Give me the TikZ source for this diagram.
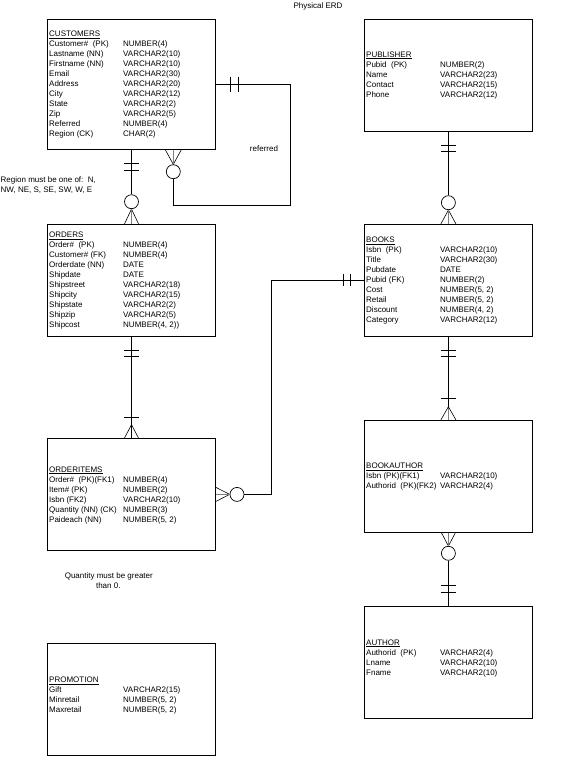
\documentclass[tikz,border=0pt]{standalone}
\usepackage{fontspec}
\setmainfont{Liberation Sans}
\newcommand\rw[2]{\makebox[74pt][l]{#1}#2}
\tikzset{
  x=1pt,y=-1pt,
  entity/.style={draw,line width=0.9pt,inner sep=0pt,minimum width=168pt,minimum height=112pt},
  tbl/.style={anchor=base west,inner sep=0pt,font=\fontsize{8}{10}\selectfont},
  lbl/.style={inner sep=0pt,font=\fontsize{8}{10}\selectfont},
  rel/.style={line width=0.8pt},
  tick/.style={line width=0.8pt},
  optc/.style={circle,draw,line width=0.7pt,minimum size=14pt,inner sep=0pt},
  crow/.style={line width=0.6pt},
  crowmid/.style={line width=0.5pt,gray},
}
\begin{document}
\begin{tikzpicture}
\useasboundingbox (0,0) rectangle (561,766);
\fill[white] (0,0) rectangle (561,766);

\node[lbl,anchor=base] (title) at (318,8.9) {Physical ERD};

% entities
\node[entity,minimum height=130pt] (cust) at (131.5,84.3) {};
\node[entity] (pub) at (448.4,75.2) {};
\node[entity] (ord) at (131.5,280.3) {};
\node[entity] (book) at (448.4,280.3) {};
\node[entity] (oi) at (131.5,494.4) {};
\node[entity] (ba) at (448.4,476.3) {};
\node[entity] (au) at (448.4,662.3) {};
\node[entity] (promo) at (131.3,699.3) {};

% tables
\node[tbl] (custt) at (49,36.7) {\begin{tabular}[t]{@{}l@{}}
\underline{CUSTOMERS}\\
\rw{Customer\#\ \ (PK)}{NUMBER(4)}\\
\rw{Lastname (NN)}{VARCHAR2(10)}\\
\rw{Firstname (NN)}{VARCHAR2(10)}\\
\rw{Email}{VARCHAR2(30)}\\
\rw{Address}{VARCHAR2(20)}\\
\rw{City}{VARCHAR2(12)}\\
\rw{State}{VARCHAR2(2)}\\
\rw{Zip}{VARCHAR2(5)}\\
\rw{Referred}{NUMBER(4)}\\
\rw{Region (CK)}{CHAR(2)}
\end{tabular}};

\node[tbl] (pubt) at (366,57.2) {\begin{tabular}[t]{@{}l@{}}
\underline{PUBLISHER}\\
\rw{Pubid\ \ (PK)}{NUMBER(2)}\\
\rw{Name}{VARCHAR2(23)}\\
\rw{Contact}{VARCHAR2(15)}\\
\rw{Phone}{VARCHAR2(12)}
\end{tabular}};

\node[tbl] (ordt) at (49,237.9) {\begin{tabular}[t]{@{}l@{}}
\underline{ORDERS}\\
\rw{Order\#\ \ (PK)}{NUMBER(4)}\\
\rw{Customer\# (FK)}{NUMBER(4)}\\
\rw{Orderdate (NN)}{DATE}\\
\rw{Shipdate}{DATE}\\
\rw{Shipstreet}{VARCHAR2(18)}\\
\rw{Shipcity}{VARCHAR2(15)}\\
\rw{Shipstate}{VARCHAR2(2)}\\
\rw{Shipzip}{VARCHAR2(5)}\\
\rw{Shipcost}{NUMBER(4, 2))}
\end{tabular}};

\node[tbl] (bookt) at (366,242.9) {\begin{tabular}[t]{@{}l@{}}
\underline{BOOKS}\\
\rw{Isbn\ \ (PK)}{VARCHAR2(10)}\\
\rw{Title}{VARCHAR2(30)}\\
\rw{Pubdate}{DATE}\\
\rw{Pubid (FK)}{NUMBER(2)}\\
\rw{Cost}{NUMBER(5, 2)}\\
\rw{Retail}{NUMBER(5, 2)}\\
\rw{Discount}{NUMBER(4, 2)}\\
\rw{Category}{VARCHAR2(12)}
\end{tabular}};

\node[tbl] (oit) at (49,472.2) {\begin{tabular}[t]{@{}l@{}}
\underline{ORDERITEMS}\\
\rw{Order\#\ \ (PK)(FK1)}{NUMBER(4)}\\
\rw{Item\# (PK)}{NUMBER(2)}\\
\rw{Isbn (FK2)}{VARCHAR2(10)}\\
\rw{Quantity (NN) (CK)}{NUMBER(3)}\\
\rw{Paideach (NN)}{NUMBER(5, 2)}
\end{tabular}};

\node[tbl] (bat) at (366,468.9) {\begin{tabular}[t]{@{}l@{}}
\underline{BOOKAUTHOR}\\
\rw{Isbn (PK)(FK1)}{VARCHAR2(10)}\\
\rw{Authorid\ \ (PK)(FK2)}{VARCHAR2(4)}
\end{tabular}};

\node[tbl] (aut) at (366,645.2) {\begin{tabular}[t]{@{}l@{}}
\underline{AUTHOR}\\
\rw{Authorid\ \ (PK)}{VARCHAR2(4)}\\
\rw{Lname}{VARCHAR2(10)}\\
\rw{Fname}{VARCHAR2(10)}
\end{tabular}};

\node[tbl] (promot) at (49,682.9) {\begin{tabular}[t]{@{}l@{}}
\underline{PROMOTION}\\
\rw{Gift}{VARCHAR2(15)}\\
\rw{Minretail}{NUMBER(5, 2)}\\
\rw{Maxretail}{NUMBER(5, 2)}
\end{tabular}};

% notes
\node[lbl,anchor=base west] (reg1) at (0.5,182) {Region must be one of:\ \ N,};
\node[lbl,anchor=base west] (reg2) at (0.5,192) {NW, NE, S, SE, SW, W, E};
\node[lbl,anchor=base] (q1) at (108.8,578.6) {Quantity must be greater};
\node[lbl,anchor=base] (q2) at (108.3,588.6) {than 0.};
\node[lbl,anchor=base] (refl) at (264,151.9) {referred};

% CUSTOMERS -> ORDERS
\node[optc] (c1) at (131.5,201.7) {};
\draw[rel] (cust.south) -- (c1.north);
\draw[tick] (124,163.3) -- (139,163.3) (124,170.7) -- (139,170.7);
\draw[crow] ([xshift=-7pt]ord.north) -- (c1.south) -- ([xshift=7pt]ord.north);
\draw[crowmid] (c1.south) -- (ord.north);

% CUSTOMERS self reference
\node[optc] (c2) at (173.3,171.7) {};
\coordinate (sr) at (290.7,205);
\coordinate (k2) at (c2.north |- cust.south);
\draw[rel] (cust.east) -| (sr) -| (c2.south);
\draw[tick] (230,76.5) -- (230,91.5) (238,76.5) -- (238,91.5);
\draw[crow] ([xshift=-8pt]k2) -- (c2.north) -- ([xshift=8pt]k2);
\draw[crowmid] (c2.north) -- (k2);

% PUBLISHER -> BOOKS
\node[optc] (c3) at (448.4,202.7) {};
\draw[rel] (pub.south) -- (c3.north);
\draw[tick] (441,145.7) -- (456,145.7) (441,151.7) -- (456,151.7);
\draw[crow] ([xshift=-7.5pt]book.north) -- (c3.south) -- ([xshift=7.5pt]book.north);
\draw[crowmid] (c3.south) -- (book.north);

% BOOKS -> ORDERITEMS
\node[optc] (c4) at (237,494.4) {};
\coordinate (bo) at (271.7,494.4);
\draw[rel] (book.west) -| (bo) -- (c4.east);
\draw[tick] (343.3,274.3) -- (343.3,286.3) (350,274.3) -- (350,286.3);
\draw[crow] ([yshift=-7pt]oi.east) -- (c4.west) -- ([yshift=7pt]oi.east);
\draw[crowmid] (c4.west) -- (oi.east);

% ORDERS -> ORDERITEMS
\coordinate (a5) at (131.5,424.7);
\draw[rel] (ord.south) -- (oi.north);
\draw[tick] (124,350) -- (139,350) (124,356.7) -- (139,356.7);
\draw[tick] (124,417.3) -- (139,417.3);
\draw[crow] ([xshift=-7pt]oi.north) -- (a5) -- ([xshift=7pt]oi.north);

% BOOKS -> BOOKAUTHOR
\coordinate (a6) at (448.4,406.7);
\draw[rel] (book.south) -- (a6);
\draw[crowmid] (a6) -- (ba.north);
\draw[tick] (441,350.7) -- (456,350.7) (441,356.7) -- (456,356.7);
\draw[tick] (441,398.3) -- (456,398.3);
\draw[crow] ([xshift=-7.5pt]ba.north) -- (a6) -- ([xshift=7.5pt]ba.north);

% BOOKAUTHOR -> AUTHOR
\node[optc] (c7) at (448.4,553.3) {};
\draw[rel] (c7.south) -- (au.north);
\draw[tick] (441,585) -- (456,585) (441,592.3) -- (456,592.3);
\draw[crow] ([xshift=-7pt]ba.south) -- (c7.north) -- ([xshift=7pt]ba.south);
\draw[crowmid] (c7.north) -- (ba.south);
\end{tikzpicture}
\end{document}
